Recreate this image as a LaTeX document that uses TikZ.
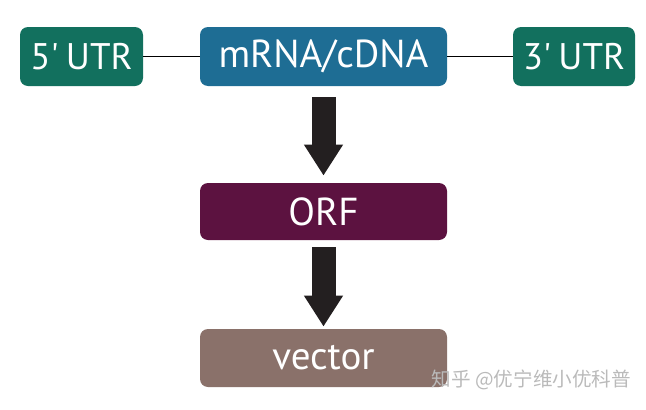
\documentclass[tikz,border=0pt]{standalone}
\usepackage{fontspec}
\setmainfont{PT Sans}
\newfontfamily\cjkfont{Noto Sans CJK SC}
\usetikzlibrary{arrows.meta}
\definecolor{utrgreen}{HTML}{12705E}
\definecolor{mrnablue}{HTML}{1E6D94}
\definecolor{orfpurple}{HTML}{5C1240}
\definecolor{vecbrown}{HTML}{8A716A}
\definecolor{arrowgray}{HTML}{231F20}
\begin{document}
\begin{tikzpicture}[x=1pt, y=1pt, thick, box/.style = {rounded corners=8pt, inner sep=0pt, minimum height=59pt, text=white, font=\fontsize{39}{42}\selectfont}, utr/.style = {box, fill=utrgreen, font=\fontsize{37}{40}\selectfont}, fat/.style = {draw=arrowgray, line width=24pt, -{Triangle[length=31pt, width=37pt]}}]
		\useasboundingbox (0,0) rectangle (646,-410);
		\node[utr, minimum width=123pt] (5utr) at (81.5,-56.5) {5\textquotesingle\hspace{0.2em}UTR};
		\node[box, fill=mrnablue, minimum width=247pt] (mrna) at (323.5,-56.5) {mRNA/cDNA};
		\node[utr, minimum width=122pt] (3utr) at (574,-56.5) {3\textquotesingle\hspace{0.2em}UTR};
		\node[box, fill=orfpurple, minimum width=247pt, minimum height=57pt] (orf) at (323.5,-211.5) {ORF};
		\node[box, fill=vecbrown, minimum width=247pt, minimum height=58pt] (vec) at (323.5,-358) {vector};
		\node[text=black!27, font=\cjkfont\fontsize{19.6}{22}\selectfont, anchor=west] (mark) at (428,-380) {知乎 @优宁维小优科普};
		\path[draw=black, line width=0.8pt]
			(5utr) edge (mrna) (mrna) edge (3utr);
		\draw[fat, shorten <=11pt, shorten >=7pt] (mrna) -- (orf);
		\draw[fat, shorten <=7pt, shorten >=2pt] (orf) -- (vec);
	\end{tikzpicture}
\end{document}
